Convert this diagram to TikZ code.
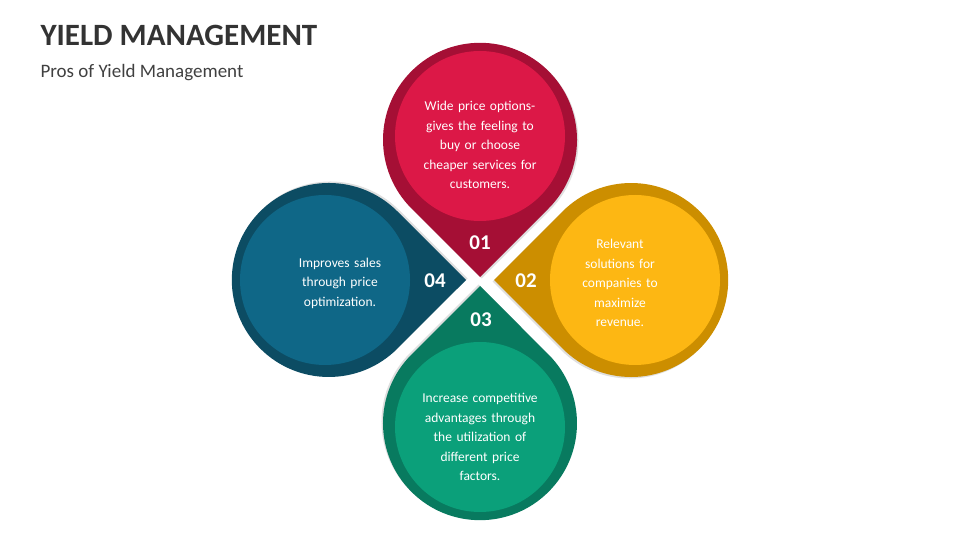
\documentclass[tikz,border=0pt]{standalone}
\usepackage{fontspec}
\setmainfont{Carlito}
\begin{document}
\begin{tikzpicture}[x=1pt,y=1pt,
  txt/.style={text=white,font=\fontsize{13.5}{19.5}\selectfont,align=center,text width=140pt},
  num/.style={text=white,font=\fontsize{21}{24}\selectfont\bfseries}]
\definecolor{rO}{HTML}{A50F35}\definecolor{rI}{HTML}{DC1847}
\definecolor{yO}{HTML}{CC8E00}\definecolor{yI}{HTML}{FDB713}
\definecolor{gO}{HTML}{087A5F}\definecolor{gI}{HTML}{0BA07A}
\definecolor{bO}{HTML}{0C4C63}\definecolor{bI}{HTML}{0F6787}
\useasboundingbox (0,0) rectangle (960,540);
\newcommand{\petal}[5]{% tipx tipy rot outer inner
  \begin{scope}[shift={(#1,#2)},rotate=#3]
    \fill[black!25,opacity=0.5,shift={(1.5,-1.5)}] (0,0) -- (68.6,68.6) arc[start angle=-45,end angle=225,radius=97] -- cycle;
    \fill[#4] (0,0) -- (68.6,68.6) arc[start angle=-45,end angle=225,radius=97] -- cycle;
    \fill[#5] (0,141) circle[radius=85];
  \end{scope}}
\petal{480}{263}{0}{rO}{rI}
\petal{494}{260}{-90}{yO}{yI}
\petal{480}{254}{180}{gO}{gI}
\petal{466}{260}{90}{bO}{bI}
\node[anchor=west,font=\fontsize{31}{34}\selectfont\bfseries,text=black!80] (title) at (37,505) {YIELD MANAGEMENT};
\node[anchor=west,font=\fontsize{19}{22}\selectfont,text=black!75] (sub) at (37,467) {Pros of Yield Management};
\node[txt] (t1) at (480,395) {Wide price options-\\gives the feeling to\\buy or choose\\cheaper services for\\customers.};
\node[txt] (t2) at (620,257) {Relevant\\solutions for\\companies to\\maximize\\revenue.};
\node[txt] (t3) at (480,103) {Increase competitive\\advantages through\\the utilization of\\different price\\factors.};
\node[txt] (t4) at (340,257) {Improves sales\\through price\\optimization.};
\node[num] (n1) at (480,297) {01};
\node[num] (n2) at (526,259) {02};
\node[num] (n3) at (481,220) {03};
\node[num] (n4) at (435,259) {04};
\end{tikzpicture}
\end{document}
